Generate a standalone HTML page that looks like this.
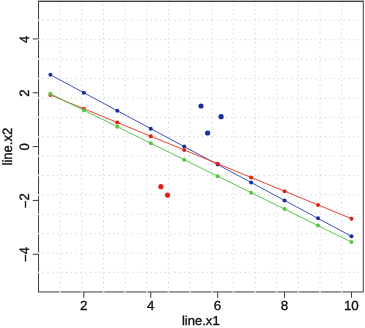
<!DOCTYPE html>
<html><head><meta charset="utf-8"><title>plot</title>
<style>html,body{margin:0;padding:0;background:#fff}body{width:365px;height:328px;overflow:hidden}</style></head>
<body>
<svg width="365" height="328" viewBox="0 0 365 328" style="display:block">
<rect x="0" y="0" width="365" height="328" fill="#fff"/>
<rect x="38.55" y="1.45" width="324.75" height="290.50" fill="none" stroke="#3c3c3c" stroke-width="1.0"/>
<rect x="38.05" y="0.65" width="325.75" height="0.5" fill="#3c3c3c"/>
<path d="M83.85 291.95V297.85M150.75 291.95V297.85M217.65 291.95V297.85M284.55 291.95V297.85M351.45 291.95V297.85M38.55 254.24H32.75M38.55 200.42H32.75M38.55 146.60H32.75M38.55 92.78H32.75M38.55 38.96H32.75" fill="none" stroke="#3c3c3c" stroke-width="1.0"/>
<rect x="59.40" y="291.05" width="1.6" height="1.8" fill="#ececec"/><rect x="37.65" y="19.59" width="1.8" height="1.6" fill="#ececec"/><rect x="81.05" y="291.05" width="1.6" height="1.8" fill="#ececec"/><rect x="37.65" y="38.97" width="1.8" height="1.6" fill="#ececec"/><rect x="102.70" y="291.05" width="1.6" height="1.8" fill="#ececec"/><rect x="37.65" y="58.36" width="1.8" height="1.6" fill="#ececec"/><rect x="124.35" y="291.05" width="1.6" height="1.8" fill="#ececec"/><rect x="37.65" y="77.74" width="1.8" height="1.6" fill="#ececec"/><rect x="146.00" y="291.05" width="1.6" height="1.8" fill="#ececec"/><rect x="37.65" y="97.13" width="1.8" height="1.6" fill="#ececec"/><rect x="167.65" y="291.05" width="1.6" height="1.8" fill="#ececec"/><rect x="37.65" y="116.51" width="1.8" height="1.6" fill="#ececec"/><rect x="189.30" y="291.05" width="1.6" height="1.8" fill="#ececec"/><rect x="37.65" y="135.90" width="1.8" height="1.6" fill="#ececec"/><rect x="210.95" y="291.05" width="1.6" height="1.8" fill="#ececec"/><rect x="37.65" y="155.28" width="1.8" height="1.6" fill="#ececec"/><rect x="232.60" y="291.05" width="1.6" height="1.8" fill="#ececec"/><rect x="37.65" y="174.66" width="1.8" height="1.6" fill="#ececec"/><rect x="254.25" y="291.05" width="1.6" height="1.8" fill="#ececec"/><rect x="37.65" y="194.05" width="1.8" height="1.6" fill="#ececec"/><rect x="275.90" y="291.05" width="1.6" height="1.8" fill="#ececec"/><rect x="37.65" y="213.44" width="1.8" height="1.6" fill="#ececec"/><rect x="297.55" y="291.05" width="1.6" height="1.8" fill="#ececec"/><rect x="37.65" y="232.82" width="1.8" height="1.6" fill="#ececec"/><rect x="319.20" y="291.05" width="1.6" height="1.8" fill="#ececec"/><rect x="37.65" y="252.21" width="1.8" height="1.6" fill="#ececec"/><rect x="340.85" y="291.05" width="1.6" height="1.8" fill="#ececec"/><rect x="37.65" y="271.59" width="1.8" height="1.6" fill="#ececec"/>
<path d="M60.20 291.95V1.45M81.85 291.95V1.45M103.50 291.95V1.45M125.15 291.95V1.45M146.80 291.95V1.45M168.45 291.95V1.45M190.10 291.95V1.45M211.75 291.95V1.45M233.40 291.95V1.45M255.05 291.95V1.45M276.70 291.95V1.45M298.35 291.95V1.45M320.00 291.95V1.45M341.65 291.95V1.45M38.55 20.39H363.30M38.55 39.77H363.30M38.55 59.16H363.30M38.55 78.54H363.30M38.55 97.93H363.30M38.55 117.31H363.30M38.55 136.70H363.30M38.55 156.08H363.30M38.55 175.47H363.30M38.55 194.85H363.30M38.55 214.24H363.30M38.55 233.62H363.30M38.55 253.01H363.30M38.55 272.39H363.30" fill="none" stroke="#cacaca" stroke-width="1" stroke-dasharray="1.1 3.6" stroke-dashoffset="0.55"/>
<path d="M50.40 74.8L351.45 236.3" stroke="#364cb4" stroke-width="0.95" fill="none"/>
<circle cx="50.40" cy="74.80" r="2.0" fill="#1b2f9f"/>
<circle cx="83.85" cy="92.74" r="2.0" fill="#1b2f9f"/>
<circle cx="117.30" cy="110.69" r="2.0" fill="#1b2f9f"/>
<circle cx="150.75" cy="128.63" r="2.0" fill="#1b2f9f"/>
<circle cx="184.20" cy="146.58" r="2.0" fill="#1b2f9f"/>
<circle cx="217.65" cy="164.52" r="2.0" fill="#1b2f9f"/>
<circle cx="251.10" cy="182.47" r="2.0" fill="#1b2f9f"/>
<circle cx="284.55" cy="200.41" r="2.0" fill="#1b2f9f"/>
<circle cx="318.00" cy="218.36" r="2.0" fill="#1b2f9f"/>
<circle cx="351.45" cy="236.30" r="2.0" fill="#1b2f9f"/>
<path d="M50.40 95.0L351.45 218.65" stroke="#e63a2a" stroke-width="0.95" fill="none"/>
<circle cx="50.40" cy="95.00" r="2.0" fill="#df2216"/>
<circle cx="83.85" cy="108.74" r="2.0" fill="#df2216"/>
<circle cx="117.30" cy="122.48" r="2.0" fill="#df2216"/>
<circle cx="150.75" cy="136.22" r="2.0" fill="#df2216"/>
<circle cx="184.20" cy="149.96" r="2.0" fill="#df2216"/>
<circle cx="217.65" cy="163.69" r="2.0" fill="#df2216"/>
<circle cx="251.10" cy="177.43" r="2.0" fill="#df2216"/>
<circle cx="284.55" cy="191.17" r="2.0" fill="#df2216"/>
<circle cx="318.00" cy="204.91" r="2.0" fill="#df2216"/>
<circle cx="351.45" cy="218.65" r="2.0" fill="#df2216"/>
<path d="M50.40 93.8L351.45 242.05" stroke="#52c444" stroke-width="0.95" fill="none"/>
<circle cx="50.40" cy="93.80" r="2.0" fill="#55c83e"/>
<circle cx="83.85" cy="110.27" r="2.0" fill="#55c83e"/>
<circle cx="117.30" cy="126.74" r="2.0" fill="#55c83e"/>
<circle cx="150.75" cy="143.22" r="2.0" fill="#55c83e"/>
<circle cx="184.20" cy="159.69" r="2.0" fill="#55c83e"/>
<circle cx="217.65" cy="176.16" r="2.0" fill="#55c83e"/>
<circle cx="251.10" cy="192.63" r="2.0" fill="#55c83e"/>
<circle cx="284.55" cy="209.11" r="2.0" fill="#55c83e"/>
<circle cx="318.00" cy="225.58" r="2.0" fill="#55c83e"/>
<circle cx="351.45" cy="242.05" r="2.0" fill="#55c83e"/>
<circle cx="201.0" cy="106.0" r="2.6" fill="#1b2f9f"/>
<circle cx="221.1" cy="116.7" r="2.6" fill="#1b2f9f"/>
<circle cx="207.6" cy="133.0" r="2.6" fill="#1b2f9f"/>
<circle cx="160.9" cy="186.7" r="2.6" fill="#df2216"/>
<circle cx="167.5" cy="195.1" r="2.6" fill="#df2216"/>
<g text-rendering="geometricPrecision" font-family="'Liberation Sans', Arial, sans-serif" font-size="13.55" fill="#111" stroke="#111" stroke-width="0.35" text-anchor="middle">
<text font-size="13.4" transform="translate(83.75 310.3) scale(1 0.98)">2</text>
<text font-size="13.4" transform="translate(150.65 310.3) scale(1 0.98)">4</text>
<text font-size="13.4" transform="translate(217.55 310.3) scale(1 0.98)">6</text>
<text font-size="13.4" transform="translate(284.45 310.3) scale(1 0.98)">8</text>
<text font-size="13.4" transform="translate(351.35 310.3) scale(1 0.98)">10</text>
<text transform="translate(29.4 254.24) rotate(-90) scale(0.965 1)"><tspan x="-4.04" y="0.9">−</tspan><tspan x="3.78" y="0">4</tspan></text>
<text transform="translate(29.4 200.42) rotate(-90) scale(0.965 1)"><tspan x="-4.04" y="0.9">−</tspan><tspan x="3.78" y="0">2</tspan></text>
<text transform="translate(29.4 146.90) rotate(-90) scale(0.965 1)">0</text>
<text transform="translate(29.4 93.08) rotate(-90) scale(0.965 1)">2</text>
<text transform="translate(29.4 39.26) rotate(-90) scale(0.965 1)">4</text>
<text font-size="13.05" transform="translate(200.8 324.8) scale(1 0.99)">line.x1</text>
<text transform="translate(12.2 146.6) rotate(-90) scale(0.965 1)">line.x2</text>
</g>
</svg>
</body></html>
